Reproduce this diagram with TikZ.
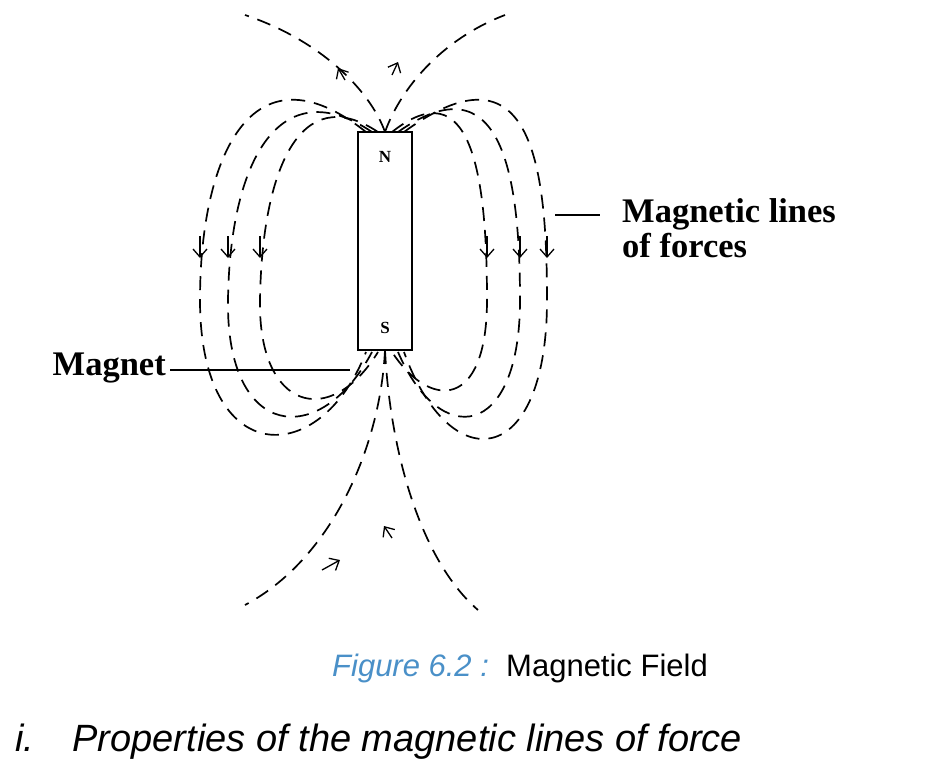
\documentclass[tikz,border=0pt]{standalone}
\usepackage{fontspec}
\setmainfont{Liberation Serif}
\newfontfamily\capfont{Liberation Sans}
\usetikzlibrary{arrows.meta}
\definecolor{capblue}{HTML}{4A90C8}
\begin{document}
\begin{tikzpicture}[x=1pt,y=-1pt,
  fl/.style={line width=1.7pt,dash pattern=on 14pt off 9pt},
  arr/.style={line width=1.3pt,-{Straight Barb[length=8pt,width=14pt]}},
  lbl/.style={font=\fontsize{34.5}{35}\selectfont\bfseries,align=left,inner sep=0pt}]
\clip (0,0) rectangle (926,758);
\fill[white] (0,0) rectangle (926,758);
\node[draw,line width=1.3pt,minimum width=54pt,minimum height=218pt,inner sep=0pt] (mag) at (385,241) {};
\node[font=\fontsize{17}{18}\selectfont\bfseries] (N) at (385,157) {N};
\node[font=\fontsize{17}{18}\selectfont\bfseries] (S) at (385,328) {S};
\coordinate (nt) at (385,132);
\coordinate (sb) at (385,350);
% left loops
\draw[fl] (378,132) .. controls (300,80) and (262,170) .. (260,300) .. controls (258,410) and (330,430) .. (378,352);
\draw[fl] (372,132) .. controls (280,70) and (230,160) .. (228,300) .. controls (226,440) and (320,450) .. (372,352);
\draw[fl] (366,132) .. controls (250,40) and (200,160) .. (200,300) .. controls (200,470) and (320,470) .. (366,352);
% right loops
\draw[fl] (392,132) .. controls (470,70) and (487,170) .. (487,300) .. controls (487,410) and (430,410) .. (392,352);
\draw[fl] (398,132) .. controls (500,60) and (520,170) .. (520,300) .. controls (520,440) and (440,450) .. (398,352);
\draw[fl] (404,132) .. controls (530,40) and (547,160) .. (547,300) .. controls (547,470) and (450,480) .. (404,352);
% open lines
\coordinate (tl) at (245,15); \coordinate (tr) at (505,15);
\coordinate (bl) at (245,605); \coordinate (br) at (478,610);
\draw[fl] (nt) .. controls (370,90) and (320,40) .. (tl);
\draw[fl] (nt) .. controls (400,90) and (440,40) .. (tr);
\draw[fl] (sb) .. controls (380,450) and (330,560) .. (bl);
\draw[fl] (sb) .. controls (390,450) and (420,560) .. (br);
% arrows
\draw[arr] (345,80) -- (338,68);
\draw[arr] (392,75) -- (398,62);
\draw[arr] (322,570) -- (340,560);
\draw[arr] (392,538) -- (384,526);
\foreach \x in {200,228,260,487,520,547}{\draw[arr] (\x,236) -- (\x,258);}
% labels
\node[lbl,anchor=east] (lm) at (166,368) {Magnet};
\draw[line width=1.2pt] (170,370) -- (350,370);
\node[lbl,anchor=north west] (lf) at (622,198) {Magnetic lines\\of forces};
\draw[line width=1.2pt] (555,215) -- (600,215);
\node[font=\capfont\fontsize{31}{34}\selectfont] (cap) at (520,668) {\textcolor{capblue}{\itshape Figure 6.2 :}\ \ Magnetic Field};
\node[font=\capfont\fontsize{38}{40}\selectfont\itshape,anchor=west] (prop) at (12,742) {i.\quad Properties of the magnetic lines of force};
\end{tikzpicture}
\end{document}
